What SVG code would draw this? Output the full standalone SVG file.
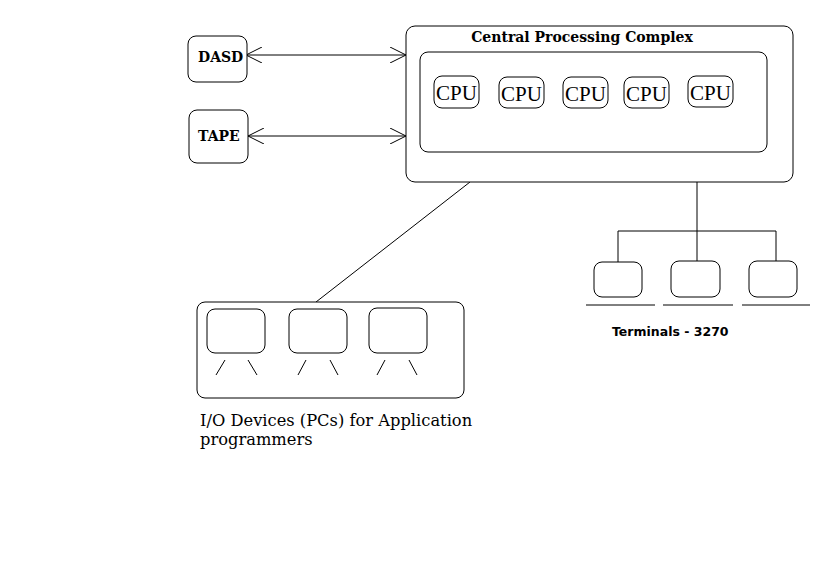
<svg xmlns="http://www.w3.org/2000/svg" width="827" height="585" viewBox="0 0 827 585">
<style>
.b{fill:#fff;stroke:#000;stroke-width:1}
.l{stroke:#000;stroke-width:1;fill:none}
.lbl{font-family:"DejaVu Serif",serif;font-weight:bold;font-size:14px}
.cpu{font-family:"Liberation Serif",serif;font-size:21px;text-anchor:middle}
.io{font-family:"DejaVu Serif",serif;font-size:16.3px}
</style>
<defs>
<marker id="a" viewBox="0 0 16 16" refX="16" refY="8" markerWidth="16" markerHeight="16" markerUnits="userSpaceOnUse" orient="auto-start-reverse">
<path d="M0,0 L16,8 L0,16" fill="none" stroke="#000"/>
</marker>
</defs>
<rect width="827" height="585" fill="#fff"/>
<g id="connectors">
<line class="l" x1="246" y1="55" x2="406" y2="55" marker-start="url(#a)" marker-end="url(#a)"/>
<line class="l" x1="248" y1="136" x2="406" y2="136" marker-start="url(#a)" marker-end="url(#a)"/>
<line class="l" x1="470" y1="182" x2="316" y2="302"/>
<path class="l" d="M697,182 V231 M618,231 H776 M618,231 V262 M697,231 V262 M776,231 V262"/>
</g>
<g id="dasd"><rect class="b" x="188" y="36" width="59" height="46" rx="8"/><text class="lbl" x="198" y="62">DASD</text></g>
<g id="tape"><rect class="b" x="189" y="110" width="59" height="53" rx="8"/><text class="lbl" x="198" y="141">TAPE</text></g>
<g id="cpc">
<rect class="b" x="406" y="26" width="387" height="156" rx="9"/>
<text class="lbl" x="582" y="42" text-anchor="middle">Central Processing Complex</text>
<rect class="b" x="420" y="52" width="347" height="100" rx="8"/>
<g id="cpu1"><rect class="b" x="434" y="76" width="45" height="32" rx="8"/><text class="cpu" x="456.5" y="100">CPU</text></g>
<g id="cpu2"><rect class="b" x="499" y="77" width="45" height="31" rx="8"/><text class="cpu" x="521.5" y="101">CPU</text></g>
<g id="cpu3"><rect class="b" x="563" y="77" width="45" height="31" rx="8"/><text class="cpu" x="585.5" y="101">CPU</text></g>
<g id="cpu4"><rect class="b" x="624" y="77" width="45" height="31" rx="8"/><text class="cpu" x="646.5" y="101">CPU</text></g>
<g id="cpu5"><rect class="b" x="688" y="76" width="45" height="31" rx="8"/><text class="cpu" x="710.5" y="100">CPU</text></g>
</g>
<g id="pcs">
<rect class="b" x="197" y="302" width="267" height="96" rx="8"/>
<rect class="b" x="207" y="309" width="58" height="44" rx="8"/>
<rect class="b" x="289" y="309" width="58" height="44" rx="8"/>
<rect class="b" x="369" y="308" width="58" height="45" rx="8"/>
<path class="l" d="M225,360 L216,375 M248,360 L257,375 M306,360 L298,375 M330,360 L338,375 M385,360 L377,375 M409,360 L417,375"/>
<text class="io" x="200" y="426">I/O Devices (PCs) for Application</text>
<text class="io" x="200" y="445">programmers</text>
</g>
<g id="terminals">
<rect class="b" x="594" y="262" width="48" height="35" rx="8"/>
<rect class="b" x="671" y="261" width="49" height="36" rx="8"/>
<rect class="b" x="749" y="261" width="48" height="36" rx="8"/>
<path class="l" d="M586,305 H655 M663,305 H733 M742,305 H810"/>
<text x="612" y="336" style="font-family:'DejaVu Sans',sans-serif;font-weight:bold;font-size:12.5px">Terminals - 3270</text>
</g>
</svg>
